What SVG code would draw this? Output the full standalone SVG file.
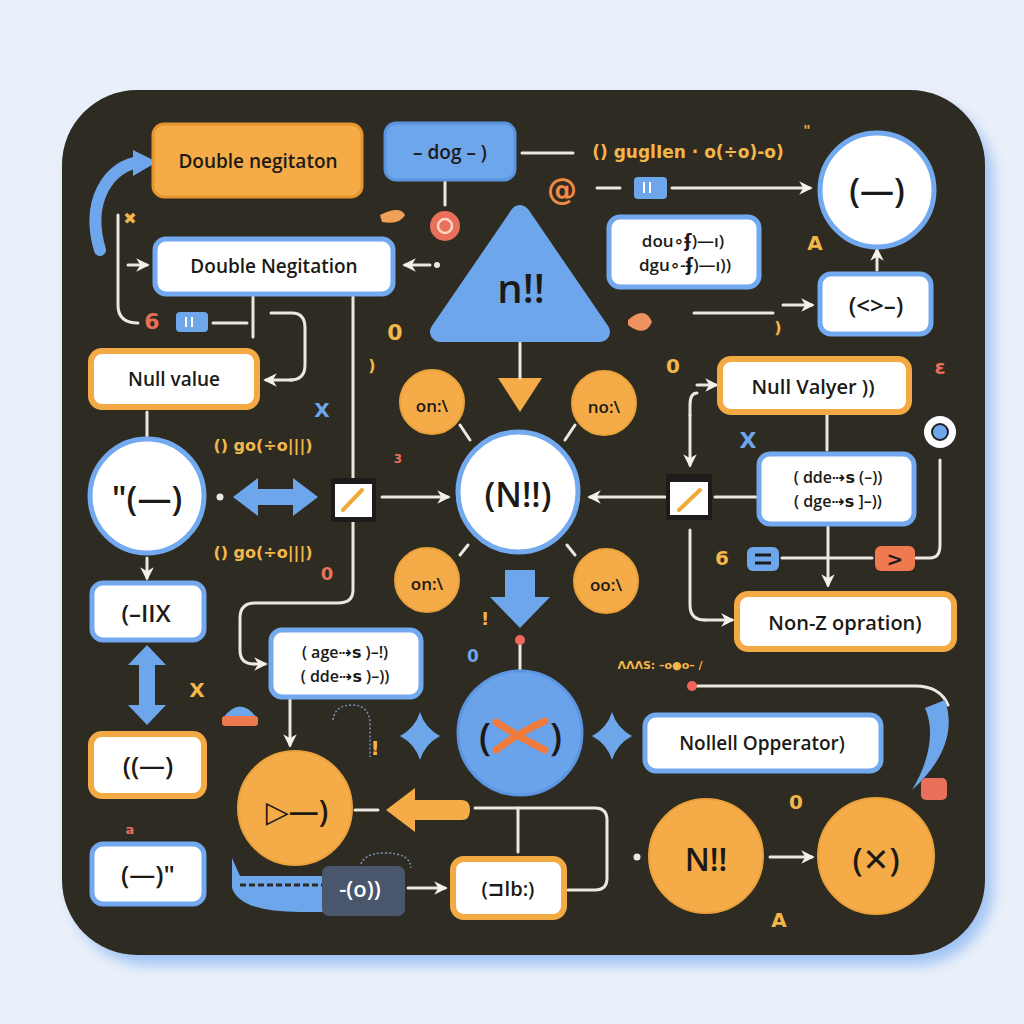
<svg xmlns="http://www.w3.org/2000/svg" width="1024" height="1024" viewBox="0 0 1024 1024">
<defs>
<filter id="blur" x="-10%" y="-10%" width="120%" height="120%"><feGaussianBlur stdDeviation="7"/></filter>
<marker id="wa" viewBox="0 0 10 10" refX="8" refY="5" markerWidth="4.5" markerHeight="4.5" orient="auto-start-reverse"><path d="M0,0 L10,5 L0,10 L3,5 Z" fill="#f4f1ea"/></marker>
<style>
.t{font-family:"Open Sans","DejaVu Sans",sans-serif;font-weight:600;fill:#1c1a16;text-anchor:middle;dominant-baseline:central}
.ob{fill:#f5ac48;stroke:#e6952c;stroke-width:3}
.bb{fill:#6ea6ec;stroke:#5a93e0;stroke-width:3}
.wb{fill:#ffffff;stroke:#72a9ef;stroke-width:5}
.wo{fill:#ffffff;stroke:#f3aa45;stroke-width:6}
.ln{fill:none;stroke:#ece8df;stroke-width:3;stroke-linecap:round;stroke-linejoin:round}
.lna{fill:none;stroke:#ece8df;stroke-width:3;stroke-linecap:round;marker-end:url(#wa)}
.d{font-family:"DejaVu Sans",sans-serif;font-weight:700;text-anchor:middle;dominant-baseline:central}
.oc{fill:#f5ac48;stroke:#e9a23a;stroke-width:2}
</style>
</defs>
<rect width="1024" height="1024" fill="#eaf0f9"/>
<rect x="70" y="100" width="923" height="865" rx="78" fill="#9fc2f4" filter="url(#blur)"/>
<rect x="62" y="90" width="923" height="865" rx="75" fill="#2e2b22"/>

<g id="connectors">
<path d="M100,250 C85,200 110,165 140,162" fill="none" stroke="#6ea6ec" stroke-width="12" stroke-linecap="round"/>
<path d="M133,150 L157,162 L133,176 Z" fill="#6ea6ec"/>
<path class="ln" d="M118,215 V305 Q118,323 138,323"/>
<path class="lna" d="M128,265 H147"/>
<path class="lna" d="M430,265 H405"/>
<circle cx="437" cy="265" r="3" fill="#ece8df"/>
<path class="ln" d="M445,182 V205"/>
<path class="ln" d="M522,153 H573"/>
<path class="ln" d="M597,188 H620"/>
<path class="lna" d="M672,188 H810"/>
<path class="ln" d="M213,323 H247"/>
<path class="ln" d="M253,297 V337"/>
<path class="ln" d="M271,313 H292 Q305,313 305,328 V365 Q305,380 290,380"/>
<path class="lna" d="M292,380 H266"/>
<path class="ln" d="M353,297 V478"/>
<path class="ln" d="M353,522 V590 Q353,603 338,603 H255 Q240,603 240,618 V650 Q240,664 254,664"/>
<path class="lna" d="M254,664 H265"/>
<path class="ln" d="M147,412 V440"/>
<path class="lna" d="M147,558 V578"/>
<circle cx="220" cy="497" r="3.5" fill="#ece8df"/>
<path class="lna" d="M382,497 H448"/>
<path class="lna" d="M665,497 H590"/>
<path class="ln" d="M715,497 H756"/>
<path class="ln" d="M697,393 Q690,393 690,405 V415"/>
<path class="lna" d="M697,385 H716"/>
<path class="lna" d="M690,415 V465"/>
<path class="ln" d="M690,530 V605 Q690,620 705,620"/>
<path class="lna" d="M705,620 H732"/>
<path class="ln" d="M827,413 V450"/>
<path class="lna" d="M828,527 V585"/>
<path class="ln" d="M782,558 H872"/>
<path class="ln" d="M916,558 H930 Q940,558 940,545 V460"/>
<path class="ln" d="M694,313 H773"/>
<path class="lna" d="M783,305 H812"/>
<path class="lna" d="M877,270 V250"/>
<path class="lna" d="M290,700 V745"/>
<path class="ln" d="M520,640 V672"/>
<circle cx="520" cy="640" r="5" fill="#f0675b"/>
<path class="ln" d="M355,810 H378"/>
<path class="ln" d="M475,808 H595 Q607,808 607,820 V878 Q607,890 595,890 H568"/>
<path class="ln" d="M518,808 V852"/>
<path class="lna" d="M408,888 H445"/>
<circle cx="637" cy="857" r="3.5" fill="#ece8df"/>
<path class="lna" d="M770,857 H812"/>
<path class="ln" d="M692,686 H915 Q940,686 948,705"/>
<circle cx="692" cy="686" r="5" fill="#f0675b"/>
<path d="M945,700 C955,730 945,760 912,790 C930,760 935,730 925,708 Z" fill="#6ea6ec"/>
<path d="M233,497 L258,478 V489 H293 V478 L318,497 L293,516 V505 H258 V516 Z" fill="#6ea6ec"/>
<path d="M147,645 L166,665 H155 V705 H166 L147,725 L128,705 H139 V665 H128 Z" fill="#6ea6ec"/>
<path d="M505,570 H535 V597 H550 L520,628 L490,597 H505 Z" fill="#6ea6ec"/>
<path d="M498,378 H542 L520,412 Z" fill="#f5ac48"/>
<path class="ln" d="M520,343 V378"/>
<path d="M400,736 Q415,728 420,712 Q425,728 440,736 Q425,744 420,760 Q415,744 400,736 Z" fill="#6ea6ec"/>
<path d="M592,736 Q607,728 612,712 Q617,728 632,736 Q617,744 612,760 Q607,744 592,736 Z" fill="#6ea6ec"/>
<path d="M386,810 L415,788 V800 H462 Q470,800 470,810 Q470,820 462,820 H415 V832 Z" fill="#f5ac48"/>
<path d="M232,858 V888 Q240,912 300,912 H324 V876 H240 Z" fill="#6ea6ec"/>
<path d="M240,885 H322" stroke="#2e2b22" stroke-width="3" stroke-dasharray="6,3"/>
<path d="M360,868 Q362,853 385,853 Q410,853 411,868" fill="none" stroke="#7c8fb3" stroke-width="1.5" stroke-dasharray="2,2"/>
<path d="M333,720 Q335,705 352,705 Q370,705 370,725 V757" fill="none" stroke="#7c8fb3" stroke-width="1.5" stroke-dasharray="2,2"/>
<path class="ln" d="M460,425 L470,440"/>
<path class="ln" d="M575,425 L565,440"/>
<path class="ln" d="M460,555 L468,545"/>
<path class="ln" d="M575,555 L567,545"/>
</g>

<g id="n1"><rect class="ob" x="153" y="124" width="209" height="73" rx="11"/><text class="t" x="258" y="161" font-size="19">Double negitaton</text></g>
<g id="n2"><rect class="bb" x="385" y="123" width="130" height="57" rx="11"/><text class="t" x="450" y="152" font-size="19">– dog – )</text></g>
<g id="n3"><rect class="wb" x="155" y="239" width="238" height="55" rx="11"/><text class="t" x="274" y="266" font-size="19">Double Negitation</text></g>
<g id="n4"><rect class="wo" x="91" y="351" width="166" height="56" rx="11"/><text class="t" x="174" y="379" font-size="19">Null value</text></g>
<g id="n5"><path d="M520,215 L440,332 L600,332 Z" fill="#6ea6ec" stroke="#6ea6ec" stroke-width="20" stroke-linejoin="round"/><text class="t" x="521" y="287" font-size="40" font-weight="400">n!!</text></g>
<g id="n6"><rect class="wb" x="609" y="217" width="150" height="70" rx="11"/><text class="t" x="683" y="240" font-size="17" font-weight="400">dou∘ʄ)—ı)</text><text class="t" x="685" y="264" font-size="17" font-weight="400">dgu∘-ʄ)—ı))</text></g>
<g id="n7"><circle cx="877" cy="190" r="57" fill="#fff" stroke="#72a9ef" stroke-width="5"/><text class="t" x="877" y="190" font-size="34" font-weight="400">(—)</text></g>
<g id="n8"><rect class="wb" x="820" y="274" width="111" height="60" rx="11"/><text class="t" x="876" y="304" font-size="24" font-weight="400">(&lt;&gt;–)</text></g>
<g id="n9"><rect class="wo" x="720" y="359" width="189" height="53" rx="11"/><text class="t" x="813" y="386" font-size="20">Null Valyer ))</text></g>
<text class="d" x="688" y="152" font-size="17" fill="#f2b64a" font-weight="400">() guglIen · o(÷o)-o)</text>
<g id="n10"><circle cx="518" cy="492" r="60" fill="#fff" stroke="#72a9ef" stroke-width="5"/><text class="t" x="518" y="494" font-size="34" font-weight="400">(N!!)</text></g>
<g id="n11"><circle class="oc" cx="432" cy="402" r="32"/><text class="t" x="432" y="405" font-size="17">on:\</text></g>
<g id="n12"><circle class="oc" cx="604" cy="403" r="32"/><text class="t" x="604" y="406" font-size="17">no:\</text></g>
<g id="n13"><circle class="oc" cx="427" cy="580" r="32"/><text class="t" x="427" y="583" font-size="17">on:\</text></g>
<g id="n14"><circle class="oc" cx="606" cy="581" r="32"/><text class="t" x="606" y="584" font-size="17">oo:\</text></g>
<g id="n15"><circle cx="147" cy="496" r="57" fill="#fff" stroke="#72a9ef" stroke-width="5"/><text class="t" x="147" y="498" font-size="34" font-weight="400">"(—)</text></g>
<g id="n16"><rect x="331" y="478" width="45" height="44" fill="#1d1c1a"/><rect x="335" y="484" width="37" height="33" fill="#fff"/><path d="M343,510 L362,490" stroke="#f0a838" stroke-width="4" stroke-linecap="round"/></g>
<g id="n17"><rect x="666" y="474" width="46" height="46" fill="#1d1c1a"/><rect x="670" y="482" width="38" height="33" fill="#fff"/><path d="M679,510 L700,490" stroke="#f0a838" stroke-width="4" stroke-linecap="round"/></g>
<g id="n18"><rect class="wb" x="759" y="454" width="155" height="70" rx="11"/><text class="t" x="838" y="477" font-size="16" font-weight="400">( dde⇢ꜱ (–))</text><text class="t" x="838" y="501" font-size="16" font-weight="400">( dge⇢ꜱ ]–))</text></g>
<g id="n19"><rect class="wo" x="737" y="594" width="217" height="55" rx="11"/><text class="t" x="845" y="622" font-size="20" font-weight="400">Non-Z opration)</text></g>
<g id="n20"><rect class="wb" x="92" y="583" width="112" height="57" rx="11"/><text class="t" x="146" y="612" font-size="24" font-weight="400">(–IIX</text></g>
<g id="n21"><rect class="wb" x="271" y="630" width="150" height="67" rx="11"/><text class="t" x="345" y="652" font-size="16" font-weight="400">( age⇢ꜱ )–!)</text><text class="t" x="345" y="676" font-size="16" font-weight="400">( dde⇢ꜱ )–))</text></g>
<g id="n22"><circle cx="520" cy="733" r="62" fill="#6aa3ea" stroke="#5c95e2" stroke-width="3"/><text class="t" x="485" y="735" font-size="38" font-weight="400">(</text><text class="t" x="556" y="735" font-size="38" font-weight="400">)</text><path d="M496,722 Q520,738 545,750 M496,750 Q520,732 545,721" stroke="#ef7a3a" stroke-width="7" fill="none" stroke-linecap="round"/></g>
<g id="n23"><rect class="wb" x="645" y="715" width="236" height="56" rx="11"/><text class="t" x="762" y="743" font-size="19" font-weight="600">Nollell Opperator)</text></g>
<g id="n24"><rect class="wo" x="91" y="734" width="113" height="62" rx="11"/><text class="t" x="148" y="765" font-size="26" font-weight="400">((—)</text></g>
<g id="n25"><circle class="oc" cx="295" cy="808" r="57"/><text class="t" x="297" y="810" font-size="30" font-weight="400">▷—)</text></g>
<g id="n26"><rect class="wb" x="92" y="844" width="112" height="60" rx="11"/><text class="t" x="148" y="874" font-size="26" font-weight="400">(—)"</text></g>
<g id="n27"><rect x="322" y="866" width="83" height="50" rx="7" fill="#4a566b"/><text class="t" x="360" y="888" font-size="22" style="fill:#fff" font-weight="700">-(o))</text></g>
<g id="n28"><rect class="wo" x="453" y="859" width="111" height="58" rx="11"/><text class="t" x="508" y="888" font-size="20" font-weight="400">(⊐lb:)</text></g>
<g id="n29"><circle class="oc" cx="706" cy="856" r="57"/><text class="t" x="706" y="858" font-size="32" font-weight="400">N!!</text></g>
<g id="n30"><circle class="oc" cx="876" cy="856" r="58"/><text class="t" x="876" y="858" font-size="32" font-weight="400">(✕)</text></g>

<g id="icons">
<rect x="176" y="312" width="32" height="20" rx="4" fill="#6ea6ec"/><path d="M186,317 V327 M192,317 V327" stroke="#fff" stroke-width="2"/>
<rect x="634" y="177" width="33" height="22" rx="4" fill="#6ea6ec"/><path d="M644,182 V193 M650,182 V193" stroke="#fff" stroke-width="2"/>
<circle cx="445" cy="226" r="15" fill="#e8705a"/><circle cx="445" cy="226" r="7" fill="none" stroke="#fcd6c5" stroke-width="2.5"/>
<text class="d" x="562" y="189" font-size="30" fill="#ef8b45">@</text>
<rect x="747" y="547" width="32" height="24" rx="6" fill="#6ea6ec"/><path d="M755,555 H771 M755,563 H771" stroke="#1d1c1a" stroke-width="3"/>
<rect x="875" y="546" width="40" height="25" rx="6" fill="#ef7a4f"/><text class="d" x="895" y="559" font-size="20" fill="#1d1c1a">&gt;</text>
<circle cx="940" cy="432" r="16" fill="#fff"/><circle cx="940" cy="432" r="8" fill="#6ea6ec" stroke="#222" stroke-width="2"/>
<path d="M223,718 Q240,695 257,718 Z" fill="#6ea6ec"/><rect x="222" y="716" width="36" height="10" rx="3" fill="#ef7a4f"/>
<path d="M628,320 Q645,305 652,322 Q645,338 628,325" fill="#f09260"/>
<rect x="921" y="778" width="26" height="22" rx="5" fill="#e8705a"/>
<path d="M380,215 Q400,205 405,215 Q400,225 382,222" fill="#f0a058"/>
</g>

<g id="labels">
<text class="d" x="130" y="218" font-size="16" fill="#f2b64a">✖</text>
<text class="d" x="152" y="321" font-size="22" fill="#e8705a">6</text>
<text class="d" x="395" y="332" font-size="22" fill="#f2b64a">0</text>
<text class="d" x="322" y="410" font-size="20" fill="#6ea6ec" font-weight="400">X</text>
<text class="d" x="263" y="445" font-size="16" fill="#f2b64a" font-weight="400">() go(÷o|||)</text>
<text class="d" x="263" y="552" font-size="16" fill="#f2b64a" font-weight="400">() go(÷o|||)</text>
<text class="d" x="327" y="573" font-size="18" fill="#e8705a">0</text>
<text class="d" x="673" y="366" font-size="20" fill="#f2b64a">0</text>
<text class="d" x="748" y="440" font-size="22" fill="#6ea6ec" font-weight="400">X</text>
<text class="d" x="940" y="367" font-size="20" fill="#e8705a">ε</text>
<text class="d" x="815" y="243" font-size="20" fill="#f2b64a">A</text>
<text class="d" x="722" y="558" font-size="20" fill="#f2b64a">6</text>
<text class="d" x="485" y="618" font-size="18" fill="#f2b64a">!</text>
<text class="d" x="473" y="656" font-size="17" fill="#6ea6ec">0</text>
<text class="d" x="197" y="690" font-size="20" fill="#f2b64a" font-weight="400">X</text>
<text class="d" x="375" y="748" font-size="20" fill="#f2b64a">!</text>
<text class="d" x="796" y="802" font-size="20" fill="#f2b64a">0</text>
<text class="d" x="779" y="920" font-size="20" fill="#f2b64a">A</text>
<text class="d" x="398" y="459" font-size="12" fill="#e8705a">3</text>
<text class="d" x="130" y="829" font-size="13" fill="#e8705a">a</text>
<text class="d" x="807" y="130" font-size="14" fill="#f2b64a">"</text>
<text class="d" x="778" y="327" font-size="16" fill="#f2b64a">)</text>
<text class="d" x="372" y="365" font-size="16" fill="#f2b64a">)</text>
<text class="d" x="660" y="665" font-size="11" fill="#f2b64a" font-weight="400">ɅɅɅS: –o●o– /</text>
</g>
</svg>
